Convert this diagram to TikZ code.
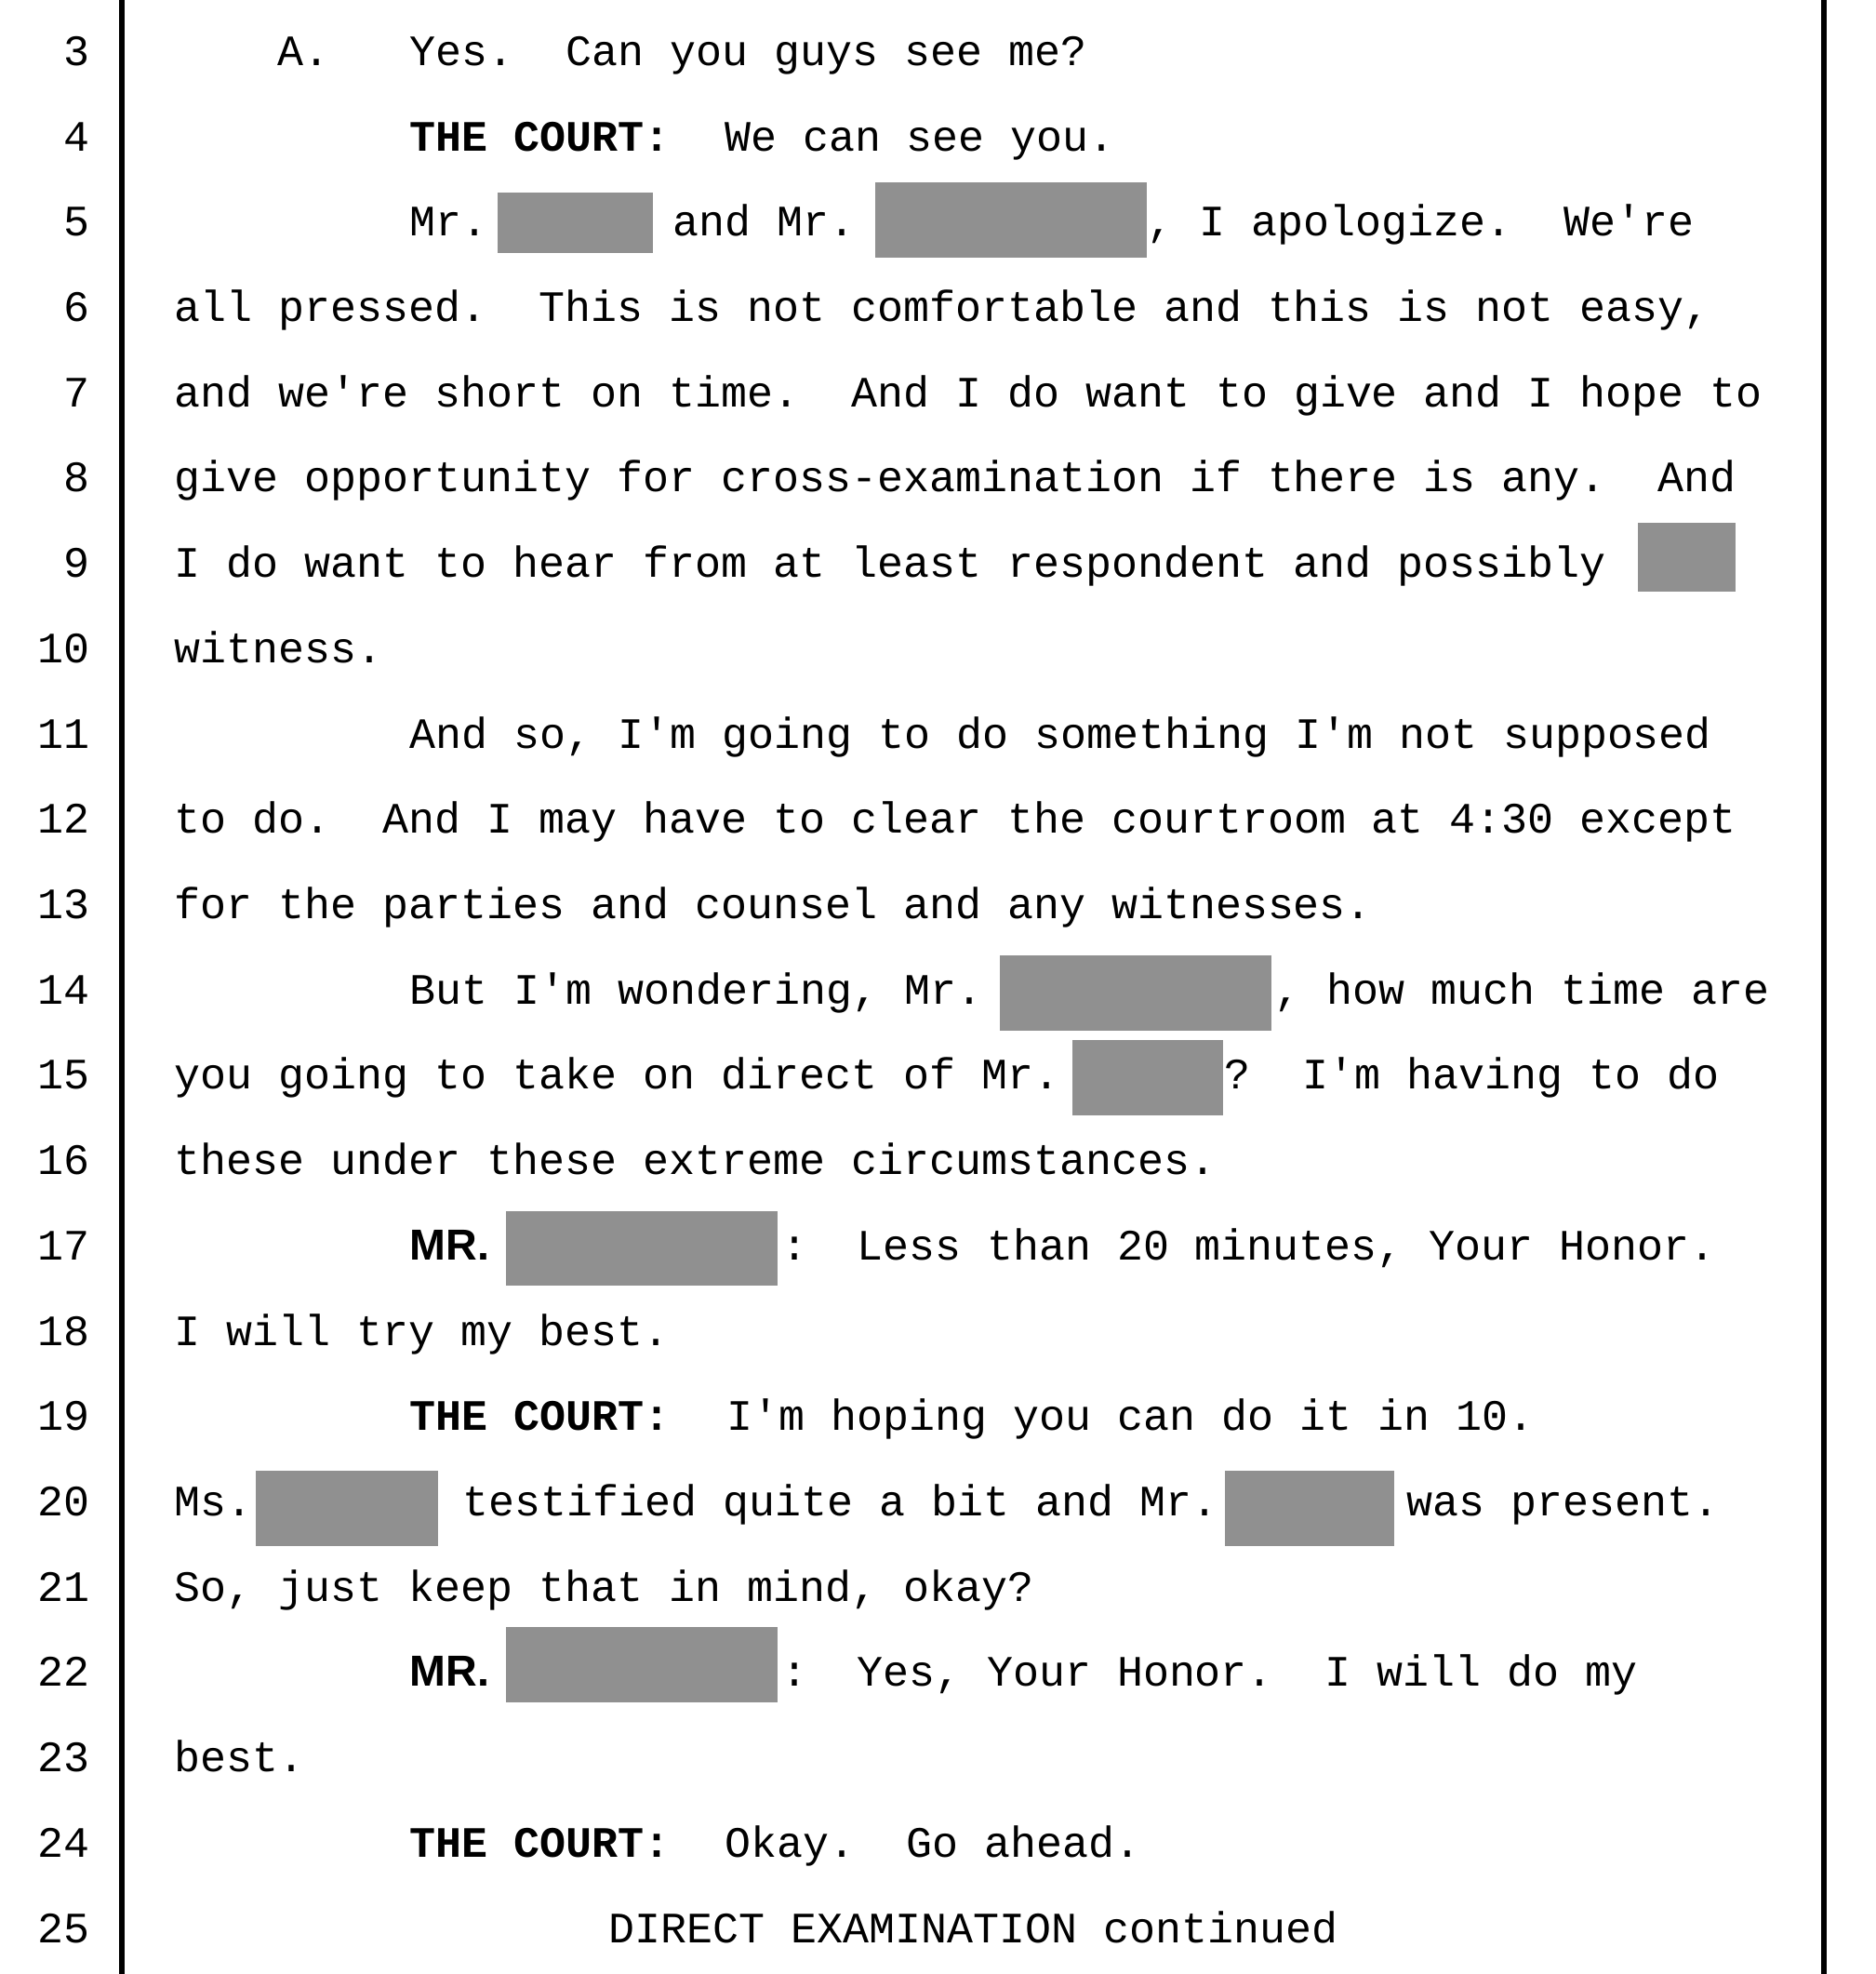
\documentclass[tikz,border=0pt]{standalone}
\usepackage{fontspec}
\setmonofont{Liberation Mono}
\setsansfont{Liberation Sans}
\definecolor{redact_gray}{HTML}{909090}
\tikzset{
  txt/.style={anchor=base west, inner sep=0pt, font=\ttfamily\fontsize{9.8}{12}\selectfont},
  lnum/.style={anchor=base east, inner sep=0pt, font=\ttfamily\fontsize{9.8}{12}\selectfont},
  spk/.style={txt, font=\ttfamily\bfseries\fontsize{9.8}{12}\selectfont},
  mrspk/.style={txt, font=\sffamily\bfseries\fontsize{9.8}{12}\selectfont},
  redact/.style={fill=redact_gray}
}
\begin{document}
\begin{tikzpicture}[x=0.01cm, y=-0.01cm]
      \useasboundingbox (0,0) rectangle (1490,1568);
      % Margin rules
      \draw[line width=1.2pt] (97,0) -- (97,1568);
      \draw[line width=1.2pt] (1449,0) -- (1449,1568);
      % Line numbers
      \foreach \n in {3,...,25}
        \node[lnum] (n\n) at (72,{52+(\n-3)*67.77}) {\n};
      % Text lines
      \def\ly#1{{52+(#1-3)*67.77}}
      \node[txt] (t3a) at (220,\ly{3}) {A.};
      \node[txt] (t3b) at (325,\ly{3}) {Yes.~~Can you guys see me?};
      \node[spk] (t4a) at (325,\ly{4}) {THE COURT:};
      \node[txt] (t4b) at (575,\ly{4}) {We can see you.};
      \node[txt] (t5a) at (325,\ly{5}) {Mr.};
      \node[txt] (t5b) at (534,\ly{5}) {and Mr.};
      \node[txt] (t5c) at (911,\ly{5}) {, I apologize.~~We're};
      \node[txt] (t6) at (138,\ly{6}) {all pressed.~~This is not comfortable and this is not easy,};
      \node[txt] (t7) at (138,\ly{7}) {and we're short on time.~~And I do want to give and I hope to};
      \node[txt] (t8) at (138,\ly{8}) {give opportunity for cross-examination if there is any.~~And};
      \node[txt] (t9) at (138,\ly{9}) {I do want to hear from at least respondent and possibly};
      \node[txt] (t10) at (138,\ly{10}) {witness.};
      \node[txt] (t11) at (325,\ly{11}) {And so, I'm going to do something I'm not supposed};
      \node[txt] (t12) at (138,\ly{12}) {to do.~~And I may have to clear the courtroom at 4:30 except};
      \node[txt] (t13) at (138,\ly{13}) {for the parties and counsel and any witnesses.};
      \node[txt] (t14a) at (325,\ly{14}) {But I'm wondering, Mr.};
      \node[txt] (t14b) at (1012,\ly{14}) {, how much time are};
      \node[txt] (t15a) at (138,\ly{15}) {you going to take on direct of Mr.};
      \node[txt] (t15b) at (972,\ly{15}) {?~~I'm having to do};
      \node[txt] (t16) at (138,\ly{16}) {these under these extreme circumstances.};
      \node[mrspk] (t17a) at (325,\ly{17}) {MR.};
      \node[txt] (t17b) at (620,\ly{17}) {:};
      \node[txt] (t17c) at (680,\ly{17}) {Less than 20 minutes, Your Honor.};
      \node[txt] (t18) at (138,\ly{18}) {I will try my best.};
      \node[spk] (t19a) at (325,\ly{19}) {THE COURT:};
      \node[txt] (t19b) at (577,\ly{19}) {I'm hoping you can do it in 10.};
      \node[txt] (t20a) at (138,\ly{20}) {Ms.};
      \node[txt] (t20b) at (367,\ly{20}) {testified quite a bit and Mr.};
      \node[txt] (t20c) at (1117,\ly{20}) {was present.};
      \node[txt] (t21) at (138,\ly{21}) {So, just keep that in mind, okay?};
      \node[mrspk] (t22a) at (325,\ly{22}) {MR.};
      \node[txt] (t22b) at (620,\ly{22}) {:};
      \node[txt] (t22c) at (680,\ly{22}) {Yes, Your Honor.~~I will do my};
      \node[txt] (t23) at (138,\ly{23}) {best.};
      \node[spk] (t24a) at (325,\ly{24}) {THE COURT:};
      \node[txt] (t24b) at (575,\ly{24}) {Okay.~~Go ahead.};
      \node[txt] (t25) at (483,\ly{25}) {DIRECT EXAMINATION continued};
      % Redactions
      \fill[redact] (395,153) rectangle (519,201);
      \fill[redact] (695,145) rectangle (911,205);
      \fill[redact] (1301,415) rectangle (1379,470);
      \fill[redact] (794,759) rectangle (1010,819);
      \fill[redact] (852,826) rectangle (972,886);
      \fill[redact] (402,962) rectangle (618,1021);
      \fill[redact] (203,1168) rectangle (348,1228);
      \fill[redact] (973,1168) rectangle (1108,1228);
      \fill[redact] (402,1292) rectangle (618,1352);
\end{tikzpicture}
\end{document}
